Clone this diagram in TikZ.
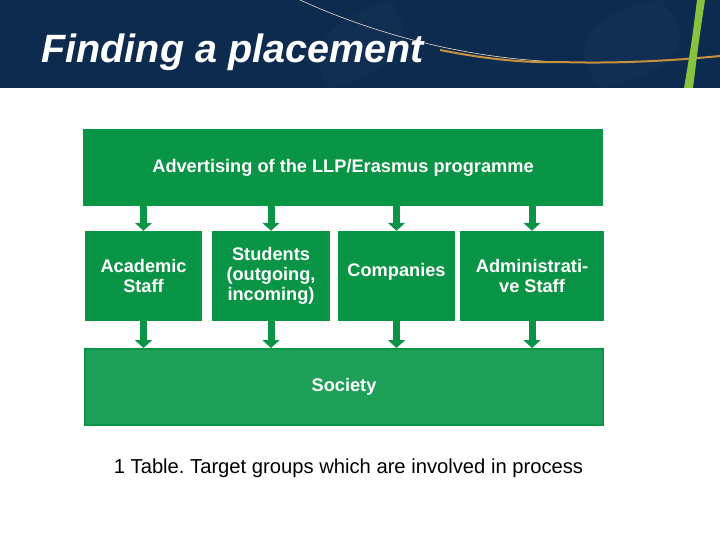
\documentclass[tikz,border=0pt]{standalone}
\usepackage{fontspec}
\setmainfont{Liberation Sans}
\usetikzlibrary{arrows.meta,positioning}
\definecolor{navy}{HTML}{0C2B4F}
\definecolor{boxgreen}{HTML}{0A9445}
\definecolor{socgreen}{HTML}{1FA059}
\definecolor{lime}{HTML}{86C43F}
\definecolor{gold}{HTML}{C8923A}
\frenchspacing

\begin{document}
\begin{tikzpicture}[x=1pt,y=-1pt,
  gbox/.style={fill=boxgreen, text=white, align=center, inner sep=0pt,
     font=\bfseries\fontsize{18.2}{19.8}\selectfont},
  flow/.style={draw=boxgreen, line width=7pt, -{Triangle[width=17pt,length=8pt]}}]
\useasboundingbox (0,0) rectangle (720,540);
\fill[white] (0,0) rectangle (720,540);
% header
\fill[navy] (0,0) rectangle (720,88);
\fill[white, opacity=0.025] (600,88) .. controls (560,40) and (600,10) .. (660,0) .. controls (700,40) and (680,70) .. (600,88);
\fill[white, opacity=0.02] (330,88) .. controls (300,50) and (330,20) .. (390,0) .. controls (420,40) and (400,70) .. (330,88);
\draw[white!70!gold, line width=0.6pt] (300,0) .. controls (370,32) and (460,58) .. (560,62);
\draw[gold, line width=2pt] (440,50) .. controls (490,60) and (530,63) .. (560,62) .. controls (620,64) and (680,60) .. (720,56);
\fill[lime] (697,0) -- (705,0) .. controls (699,40) .. (693,88) -- (684,88) .. controls (692,40) .. (697,0) -- cycle;
\node[anchor=base west, text=white, font=\bfseries\itshape\fontsize{39.5}{42}\selectfont] (title) at (38,63) {Finding a placement};
% boxes
\node[gbox, minimum width=520pt, minimum height=77pt] (adv) at (343,167.5) {Advertising of the LLP/Erasmus programme};
\node[gbox, minimum width=117pt, minimum height=90pt] (acad) at (143.5,276) {Academic\\Staff};
\node[gbox, minimum width=118pt, minimum height=90pt] (stud) at (271,276) {Students\\(outgoing,\\incoming)};
\node[gbox, minimum width=117pt, minimum height=90pt] (comp) at (396.5,276) {Companies\\[-8pt]};
\node[gbox, minimum width=144pt, minimum height=90pt] (adm) at (532,276) {Administrati-\\ve Staff};
\node[gbox, fill=socgreen, draw=boxgreen, line width=2pt, minimum width=518pt, minimum height=76pt] (soc) at (344,387) {Society};
% arrows
\foreach \b in {acad,stud,comp,adm}{
  \draw[flow] (adv.south -| \b.center) -- (\b.north);
  \draw[flow] (\b.south) -- (\b.south |- soc.north);
}
\node[anchor=base, font=\fontsize{20.2}{22}\selectfont] (cap) at (348.5,473) {1 Table. Target groups which are involved in process};
\end{tikzpicture}
\end{document}
